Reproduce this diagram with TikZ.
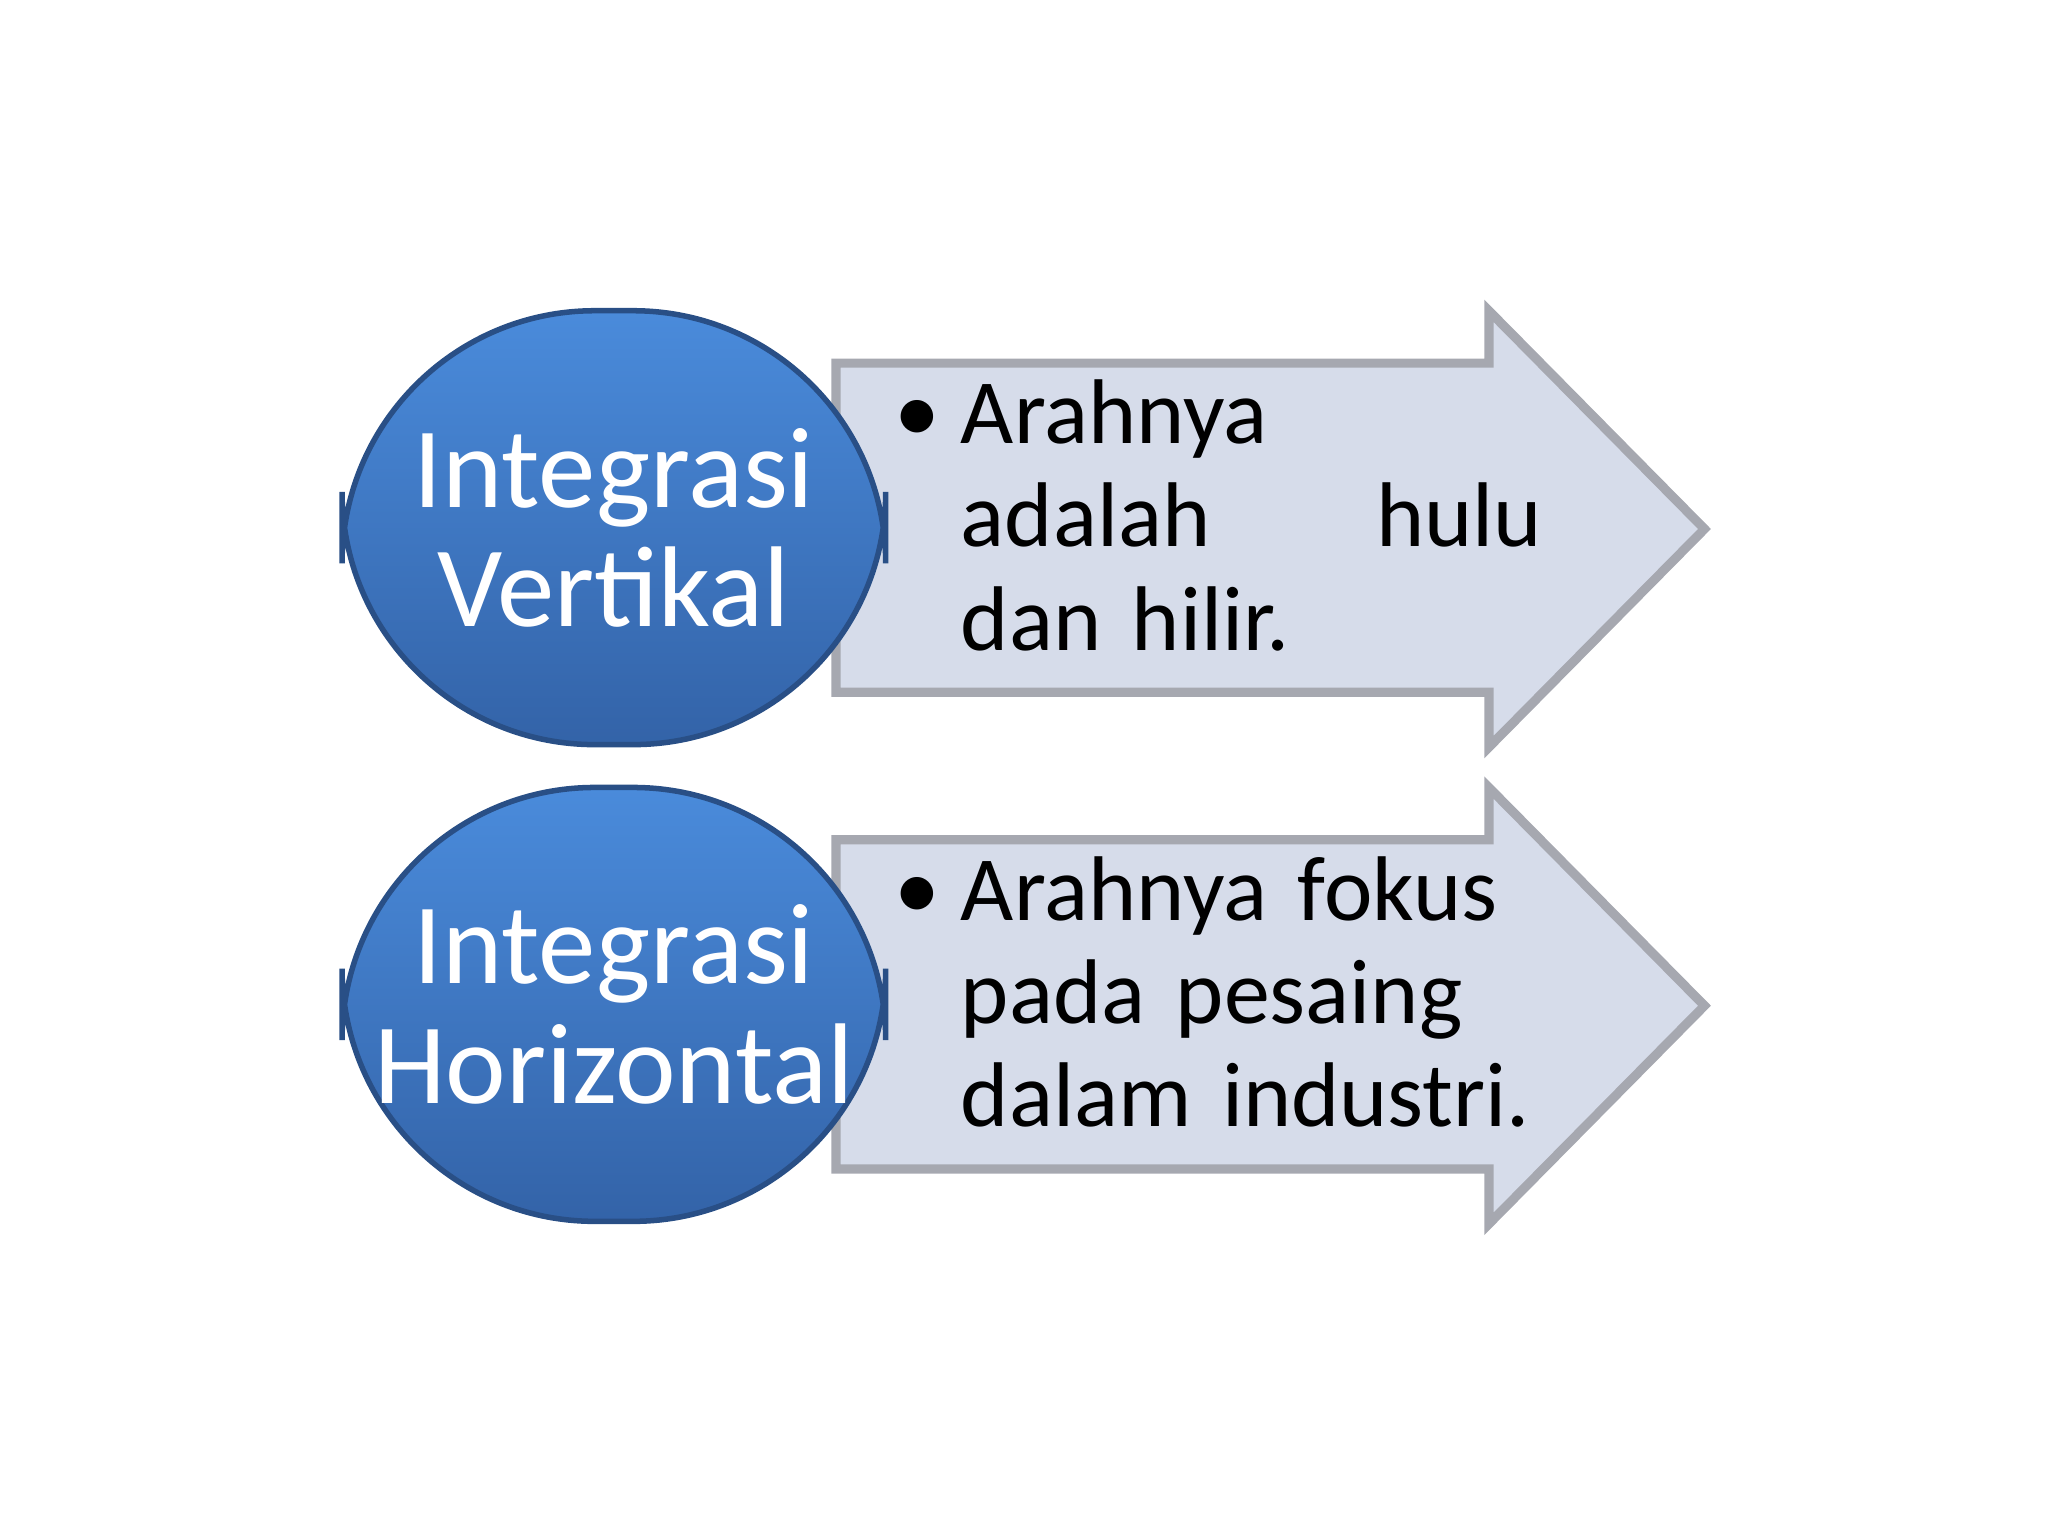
\documentclass[tikz,border=0pt]{standalone}
\usepackage{fontspec}
\setmainfont{Carlito}
\definecolor{boxtop}{HTML}{4A8BDB}
\definecolor{boxbot}{HTML}{3363A8}
\definecolor{arrfill}{HTML}{D6DCEA}
\definecolor{arredge}{HTML}{A6A8B0}
\tikzset{
  bluebox/.style={rounded corners=55, top color=boxtop, bottom color=boxbot, draw=boxbot!80!black, line width=1.2pt},
  arrowshape/.style={fill=arrfill, draw=arredge, line width=2pt, line join=miter},
  boxtext/.style={text=white, font=\fontsize{25}{26}\selectfont, align=center},
  bultext/.style={font=\fontsize{20}{22.5}\selectfont, align=left, anchor=north west, inner sep=0pt, text width=4.45cm}
}
\begin{document}
\begin{tikzpicture}[x=0.01cm,y=-0.01cm]
\useasboundingbox (0,0) rectangle (1568,1176);
\foreach \dy/\nm in {0/a,365/b}{
  \begin{scope}[yshift=-\dy*0.01cm]
  \draw[arrowshape] (640,278) -- (1140,278) -- (1140,238) -- (1305,405) -- (1140,572) -- (1140,530) -- (640,530) -- cycle;
  \end{scope}
}
\node[bluebox, minimum width=4.16cm, minimum height=3.32cm] (va) at (470,404) {};
\node[bluebox, minimum width=4.16cm, minimum height=3.32cm] (vb) at (470,769) {};
\node[boxtext] (ta) at (va) {Integrasi\\Vertikal};
\node[boxtext] (tb) at (vb) {Integrasi\\Horizontal};
\node[font=\fontsize{20}{22}\selectfont] (ba) at (702,323) {•};
\node[font=\fontsize{20}{22}\selectfont] (bb) at (702,688) {•};
\node[bultext] (xa) at (735,290) {Arahnya\\\makebox[4.45cm][s]{adalah\hfill hulu}\\dan hilir.};
\node[bultext] (xb) at (735,655) {Arahnya fokus\\pada pesaing\\dalam industri.};
\end{tikzpicture}
\end{document}
